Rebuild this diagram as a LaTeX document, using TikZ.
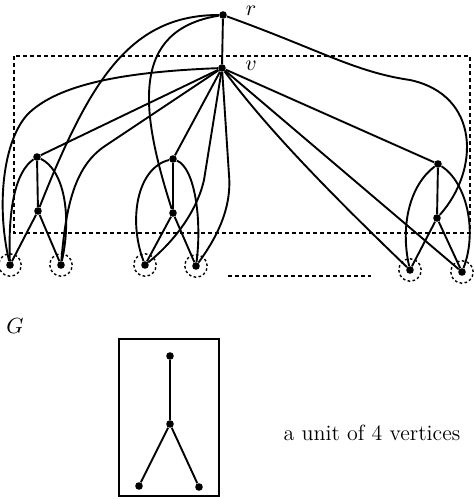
\documentclass[tikz,border=0pt]{standalone}
\begin{document}
\begin{tikzpicture}[x=0.5pt,y=-0.5pt,
  dot/.style={circle,fill=black,inner sep=0pt,minimum size=3.8pt},
  edge/.style={line width=0.95pt},
  frame/.style={line width=0.8pt,dash pattern=on 2pt off 1.5pt},
  ring/.style={line width=0.7pt,dash pattern=on 1.3pt off 1.2pt},
  lbl/.style={font=\fontsize{11}{13}\selectfont}]
\useasboundingbox (0,0) rectangle (474,499);
% dashed frame
\draw[frame] (14,56) rectangle (470,233);
% vertices
\node[dot] (r) at (223,15) {};
\node[dot] (v) at (222,68) {};
\node[dot] (a1) at (37,157) {};
\node[dot] (b1) at (38,211) {};
\node[dot] (l1) at (10,265) {};
\node[dot] (l2) at (61,265) {};
\node[dot] (a2) at (173,159) {};
\node[dot] (b2) at (173,213) {};
\node[dot] (l3) at (145,265) {};
\node[dot] (l4) at (196,266) {};
\node[dot] (a3) at (438,164) {};
\node[dot] (b3) at (437,218) {};
\node[dot] (l5) at (410,270) {};
\node[dot] (l6) at (462,272) {};
% rings round leaves
\foreach \n in {l1,l2,l3,l4,l5,l6} \draw[ring] (\n) circle[radius=5.6pt];
% labels
\node[lbl] (rl) at (251,11) {$r$};
\node[lbl] (vl) at (251,66) {$v$};
\node[lbl] (G) at (15,326) {$G$};
% edges from r
\draw[edge] (r) -- (v);
\draw[edge] (r) .. controls (130,15) and (90,80) .. (b1);
\draw[edge] (r) .. controls (130,30) and (140,110) .. (b2);
\draw[edge] (r) .. controls (320,50) and (355,72) .. (410,80) .. controls (480,95) and (480,170) .. (b3);
% edges from v
\draw[edge] (v) .. controls (120,72) and (60,85) .. (30,112) .. controls (5,135) and (-5,200) .. (l1);
\draw[edge] (v) -- (a1);
\draw[edge] (v) -- (105,146) .. controls (75,166) and (66,205) .. (l2);
\draw[edge] (v) -- (a2);
\draw[edge] (v) -- (204,180) .. controls (196,215) and (170,245) .. (l3);
\draw[edge] (v) -- (229,175) .. controls (232,210) and (215,240) .. (l4);
\draw[edge] (v) -- (a3);
\draw[edge] (v) .. controls (250,105) and (290,155) .. (l5);
\draw[edge] (v) -- (l6);
% group 1
\draw[edge] (a1) -- (b1);
\draw[edge] (b1) -- (l1);
\draw[edge] (b1) -- (l2);
\draw[edge] (a1) .. controls (15,172) and (8,210) .. (l1);
\draw[edge] (a1) .. controls (64,170) and (72,215) .. (l2);
% group 2
\draw[edge] (a2) -- (b2);
\draw[edge] (b2) -- (l3);
\draw[edge] (b2) -- (l4);
\draw[edge] (a2) .. controls (137,168) and (128,220) .. (l3);
\draw[edge] (a2) .. controls (195,168) and (202,220) .. (l4);
% group 3
\draw[edge] (a3) -- (b3);
\draw[edge] (b3) -- (l5);
\draw[edge] (b3) -- (l6);
\draw[edge] (a3) .. controls (410,185) and (400,225) .. (l5);
\draw[edge] (a3) .. controls (466,182) and (478,230) .. (l6);
% ellipsis dashes
\coordinate (d1) at (228,276);
\coordinate (d2) at (371,276);
\draw[frame] (d1) -- (d2);
% unit box
\draw[line width=0.8pt] (119,339) rectangle (219,496);
\node[dot] (u1) at (170,356) {};
\node[dot] (u2) at (170,424) {};
\node[dot] (u3) at (139,486) {};
\node[dot] (u4) at (199,487) {};
\draw[edge] (u1) -- (u2);
\draw[edge] (u2) -- (u3);
\draw[edge] (u2) -- (u4);
\node[lbl] (txt) at (372,433) {a unit of 4 vertices};
\end{tikzpicture}
\end{document}
